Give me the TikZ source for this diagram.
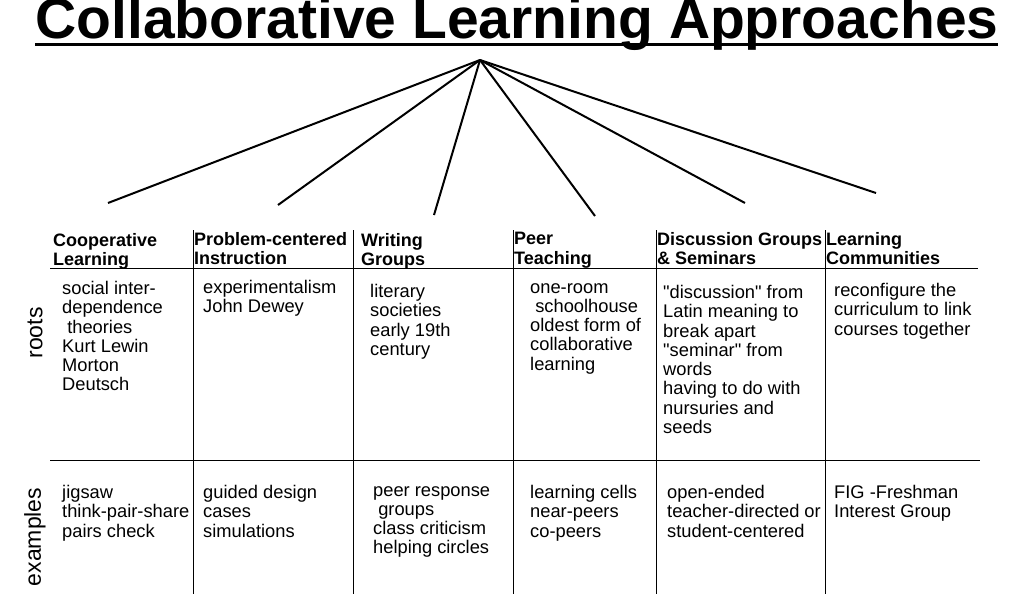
\documentclass[tikz,border=0pt]{standalone}
\usepackage{fontspec}
\setmainfont{Liberation Sans}[Ligatures=TeXOff]
\begin{document}
\begin{tikzpicture}[x=1pt,y=-1pt,
  ln/.style={line width=2pt},
  grid/.style={line width=0.8pt},
  hd/.style={anchor=north west,inner sep=0pt,align=left,font=\fontsize{18}{19.5}\selectfont\bfseries},
  bd/.style={anchor=north west,inner sep=0pt,align=left,font=\fontsize{18.3}{19.3}\selectfont},
  side/.style={rotate=90,inner sep=0pt,font=\fontsize{23}{24}\selectfont}]
\useasboundingbox (0,0) rectangle (1020,594);
\node[inner sep=0pt,anchor=base,font=\fontsize{57}{60}\selectfont\bfseries] (title) at (517,39) {Collaborative Learning Approaches};
\draw[line width=3pt] (35,45) -- (998,45);
\coordinate (apex) at (480,60);
\foreach \n/\x/\y in {a/108/203,b/278/205,c/434/215,d/595/216,e/745/203,f/876/193}{
  \coordinate (\n) at (\x,\y);
  \draw[ln] (apex) -- (\n);
}
\draw[grid] (50,268) -- (978,268);
\draw[grid] (50,460) -- (980,460);
\foreach \x in {193,353,513,656,825} \draw[grid] (\x,230) -- (\x,594);
\node[hd] (h1) at (53,233) {Cooperative\\Learning};
\node[hd] (h2) at (194,232) {Problem-centered\\Instruction};
\node[hd] (h3) at (361,233) {Writing\\Groups};
\node[hd] (h4) at (514,232) {Peer\\Teaching};
\node[hd] (h5) at (657,232) {Discussion Groups\\\& Seminars};
\node[hd] (h6) at (826,232) {Learning\\Communities};
\node[side] (roots) at (35,333) {roots};
\node[side] (ex) at (35,537) {examples};
\node[bd] (r1) at (62,281) {social inter-\\dependence\\\ theories\\Kurt Lewin\\Morton\\Deutsch};
\node[bd] (r2) at (203,280) {experimentalism\\John Dewey};
\node[bd] (r3) at (370,284) {literary\\societies\\early 19th\\century};
\node[bd] (r4) at (530,283) {one-room\\\ schoolhouse\\oldest form of\\collaborative\\learning};
\node[bd] (r5) at (663,285) {"discussion" from\\Latin meaning to\\break apart\\"seminar" from\\words\\having to do with\\nursuries and\\seeds};
\node[bd] (r6) at (834,283) {reconfigure the\\curriculum to link\\courses together};
\node[bd] (e1) at (62,485) {jigsaw\\think-pair-share\\pairs check};
\node[bd] (e2) at (203,485) {guided design\\cases\\simulations};
\node[bd] (e3) at (373,486) {peer response\\\ groups\\class criticism\\helping circles};
\node[bd] (e4) at (530,485) {learning cells\\near-peers\\co-peers};
\node[bd] (e5) at (667,485) {open-ended\\teacher-directed or\\student-centered};
\node[bd] (e6) at (834,485) {FIG -Freshman\\Interest Group};
\end{tikzpicture}
\end{document}
